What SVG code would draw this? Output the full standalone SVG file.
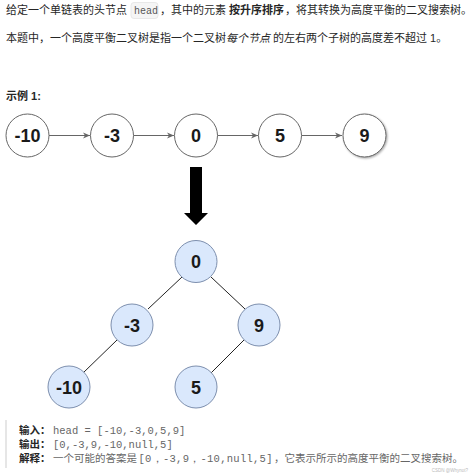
<svg xmlns="http://www.w3.org/2000/svg" width="474" height="476" viewBox="0 0 474 476">
<style>
.t{font-family:"Liberation Sans","Noto Sans CJK SC",sans-serif;font-size:11px;fill:#262626}
.s{font-size:10.5px}
.b{font-weight:bold}
.m{font-family:"Liberation Mono","DejaVu Sans Mono",monospace;font-size:10.5px;fill:#666}
.g{fill:#666}
.ll circle{fill:#fff;stroke:#666;stroke-width:1}
.tr circle{fill:#dae8fc;stroke:#7d8fae;stroke-width:1}
.n{font-family:"Liberation Sans",Arial,sans-serif;font-weight:bold;font-size:18px;fill:#1a1a1a;text-anchor:middle}
</style>
<defs>
<marker id="ah" markerWidth="8" markerHeight="8" refX="7" refY="4" orient="auto" markerUnits="userSpaceOnUse">
<path d="M0,1 L7,4 L0,7 L2,4 Z" fill="#666"/>
</marker>
</defs>
<rect width="474" height="476" fill="#fff"/>
<g id="text-top">
<text class="t" x="6" y="14">给定一个单链表的头节点</text>
<rect x="131" y="2.5" width="27" height="16" rx="3" fill="#f5f5f5" stroke="#e8e8e8"/>
<text class="m" x="134" y="14" style="font-size:10px;fill:#555">head</text>
<text class="t" x="160" y="14">，其中的元素</text>
<text class="t b" x="229" y="14">按升序排序</text>
<text class="t" x="285" y="14">，将其转换为高度平衡的二叉搜索树。</text>
<text class="t" x="6" y="42">本题中，一个高度平衡二叉树是指一个二叉树<tspan font-style="italic">每个节点</tspan> 的左右两个子树的高度差不超过 1。</text>
<text class="t b" x="6" y="100">示例 1:</text>
</g>
<g id="connectors">
<g stroke="#666" stroke-width="1" fill="none" marker-end="url(#ah)">
<line x1="49" y1="135.5" x2="90" y2="135.5"/>
<line x1="133.5" y1="135.5" x2="174" y2="135.5"/>
<line x1="217.5" y1="135.5" x2="258" y2="135.5"/>
<line x1="301.5" y1="135.5" x2="342" y2="135.5"/>
</g>
<g stroke="#222" stroke-width="1">
<line x1="182" y1="277" x2="148" y2="309"/>
<line x1="211" y1="277" x2="245" y2="309"/>
<line x1="117" y1="340" x2="83" y2="373"/>
<line x1="244" y1="340" x2="211" y2="373"/>
</g>
<path id="big-arrow" d="M190,167 H202 V213 H208 L196,225 L184,213 H190 Z" fill="#000"/>
</g>
<g class="ll">
<g id="l-10"><circle cx="27.5" cy="135.5" r="21.5"/><text class="n" x="27.5" y="142">-10</text></g>
<g id="l-3"><circle cx="112" cy="135.5" r="21.5"/><text class="n" x="112" y="142">-3</text></g>
<g id="l0"><circle cx="196" cy="135.5" r="21.5"/><text class="n" x="196" y="142">0</text></g>
<g id="l5"><circle cx="280" cy="135.5" r="21.5"/><text class="n" x="280" y="142">5</text></g>
<g id="l9"><circle cx="364.5" cy="135.5" r="21.5" style="filter:drop-shadow(1px 1px 1px rgba(0,0,0,0.35))"/><text class="n" x="364.5" y="142">9</text></g>
</g>
<g class="tr">
<g id="t0"><circle cx="196" cy="261.5" r="21"/><text class="n" x="196" y="268">0</text></g>
<g id="t-3"><circle cx="132" cy="325" r="21"/><text class="n" x="132" y="331.5">-3</text></g>
<g id="t9"><circle cx="259" cy="325" r="21"/><text class="n" x="259" y="331.5">9</text></g>
<g id="t-10"><circle cx="69" cy="387" r="21"/><text class="n" x="69" y="393.5">-10</text></g>
<g id="t5"><circle cx="196" cy="387" r="21"/><text class="n" x="196" y="393.5">5</text></g>
</g>
<g id="text-bottom">
<rect x="5" y="420" width="2" height="48" fill="#e6e6e6"/>
<text class="t s b" x="19" y="434">输入：</text>
<text class="m" x="53" y="434">head = [-10,-3,0,5,9]</text>
<text class="t s b" x="19" y="448">输出：</text>
<text class="m" x="53" y="448">[0,-3,9,-10,null,5]</text>
<text class="t s b" x="19" y="462">解释：</text>
<text class="t s g" x="53" y="462">一个可能的答案是</text>
<text class="m" x="138.5" y="462" textLength="134" lengthAdjust="spacing">[0，-3,9，-10,null,5]</text>
<text class="t s g" x="274" y="462">，它表示所示的高度平衡的二叉搜索树。</text>
<text x="468" y="472" text-anchor="end" style="font-family:'Liberation Sans',sans-serif;font-size:4.5px;fill:#bbb">CSDN @Whynot?</text>
</g>
</svg>
